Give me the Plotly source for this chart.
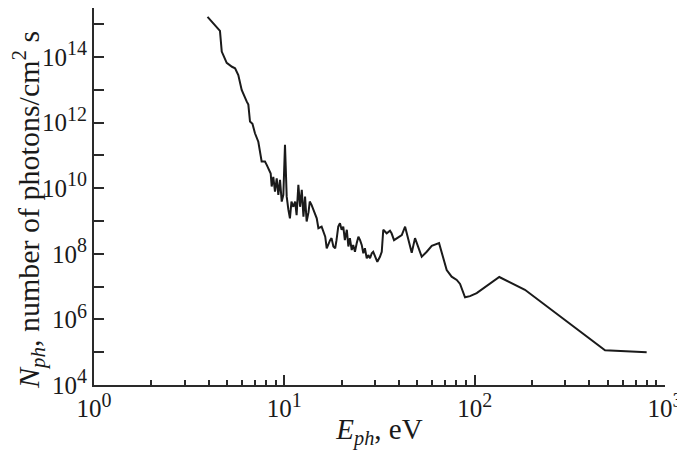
import plotly.graph_objects as go

# Photon energy (eV) and photon number (photons/cm^2 s)
E_ph = [3.95, 4.59, 4.69, 4.98, 5.31, 5.51, 5.73, 5.97, 6.34, 6.47, 6.60, 6.80, 7.01, 7.30,
        7.60, 7.91, 8.08, 8.48, 8.58, 8.75, 8.93, 9.12, 9.30, 9.49, 9.69, 9.88, 10.08, 10.29,
        10.5, 10.7, 10.9, 11.15, 11.4, 11.6, 11.85, 12.1, 12.35, 12.6, 12.85, 13.1, 13.4, 13.6,
        13.9, 14.2, 14.8, 15.1, 15.7, 16.4, 16.7, 17.4, 17.7, 18.1, 18.5, 18.8, 19.2, 19.6,
        20.0, 20.4, 20.8, 21.3, 21.7, 22.1, 22.6, 23.0, 23.5, 24.0, 24.5, 25.0, 25.5, 26.0,
        26.5, 27.1, 27.6, 28.2, 28.8, 29.3, 29.9, 30.8, 31.8, 32.5, 33.1, 34.5, 35.9, 36.6,
        37.7, 39.7, 41.4, 43.1, 44.8, 46.7, 48.6, 50.6, 52.7, 56.0, 59.5, 65.0, 71.3, 75.7,
        80.5, 83.8, 89.0, 94.5, 102.5, 134.7, 183.7, 484, 801]
N_ph = [1.66e15, 6.2e14, 1.45e14, 6.6e13, 5.0e13, 4.5e13, 2.8e13, 9.8e12, 4.4e12, 3.5e12,
        1.07e12, 9.1e11, 4.7e11, 2.6e11, 6.5e10, 6.5e10, 5.1e10, 2.8e10, 1.12e10, 2.2e10,
        7.8e9, 2.0e10, 6.2e9, 1.78e10, 3.9e9, 6.2e9, 2.1e11, 5.5e9, 2.2e9, 1.2e9, 3.9e9,
        2.7e9, 3.9e9, 1.5e9, 1.26e10, 2.7e9, 8.9e9, 1.35e9, 5.5e9, 9.6e8, 1.85e9, 3.9e9,
        3.1e9, 2.2e9, 1.2e9, 6.0e8, 6.7e8, 3.3e8, 1.47e8, 2.6e8, 3.0e8, 1.66e8, 1.47e8,
        2.6e8, 6.7e8, 8.5e8, 5.4e8, 6.7e8, 2.6e8, 5.4e8, 1.66e8, 3.0e8, 1.3e8, 1.85e8,
        1.15e8, 2.1e8, 3.3e8, 2.6e8, 1.86e8, 1.04e8, 1.47e8, 7.3e7, 9.1e7, 7.3e7, 1.04e8,
        1.15e8, 8.1e7, 5.7e7, 8.1e7, 1.15e8, 5.4e8, 4.2e8, 5.0e8, 4.2e8, 2.6e8, 3.1e8,
        3.7e8, 6.7e8, 2.6e8, 1.07e8, 3.0e8, 1.66e8, 8.1e7, 1.15e8, 1.74e8, 2.1e8, 3.2e7,
        2.0e7, 1.59e7, 1.2e7, 4.7e6, 5.1e6, 6.3e6, 1.96e7, 8.0e6, 1.14e5, 1.0e5]

x_exps = [0, 1, 2, 3]
x_minor = [2, 3, 4, 5, 6, 7, 8, 9, 20, 30, 40, 50, 60, 70, 80, 90,
           200, 300, 400, 500, 600, 700, 800, 900]
y_exps = list(range(4, 16))

SUP = '<sup><span style="font-size:20px">{}</span></sup>'
x_ticks = [10 ** e for e in x_exps]
x_ticktext = ["10" + SUP.format(e) for e in x_exps]
y_ticks = [10 ** e for e in y_exps]
y_ticktext = ["10" + SUP.format(e) if e % 2 == 0 else "" for e in y_exps]

Y_TITLE = "<i>N</i><sub><i>ph</i></sub>, number of photons/cm<sup>2</sup> s"
X_TITLE = "<i>E</i><sub><i>ph</i></sub>, eV"

FONT = "Liberation Serif, Times New Roman, Times, serif"
AX = "#2a2a2a"

fig = go.Figure()
fig.add_trace(go.Scatter(x=E_ph, y=N_ph, mode="lines",
                         line=dict(color="#1a1a1a", width=2), showlegend=False))

# page body has an 8px default margin: the figure is sized/margined to compensate
fig.update_layout(
    width=677, height=442,
    margin=dict(l=86, r=20, t=0, b=65),
    paper_bgcolor="white", plot_bgcolor="white",
    font=dict(family=FONT, size=25, color="#1a1a1a"),
    xaxis=dict(
        type="log", range=[0, 3],
        tickvals=x_ticks, ticktext=x_ticktext,
        ticks="inside", ticklen=10, tickwidth=1.5, tickcolor=AX,
        minor=dict(tickvals=x_minor, ticks="inside", ticklen=5, tickwidth=1.5, tickcolor=AX),
        showline=True, linecolor=AX, linewidth=2,
        showgrid=False, zeroline=False,
        title=dict(text=X_TITLE, standoff=4, font=dict(family=FONT, size=29)),
    ),
    yaxis=dict(
        type="log", range=[4, 15.49],
        tickvals=y_ticks, ticktext=y_ticktext,
        ticks="inside", ticklen=10, tickwidth=1.5, tickcolor=AX,
        showline=True, linecolor=AX, linewidth=2,
        showgrid=False, zeroline=False,
    ),
    annotations=[dict(
        text=Y_TITLE, textangle=-90, showarrow=False,
        xref="paper", yref="paper", x=0, y=0.464,
        xanchor="center", yanchor="middle", xshift=-66,
        font=dict(family=FONT, size=30),
    )],
)

fig.write_html("out.html")
